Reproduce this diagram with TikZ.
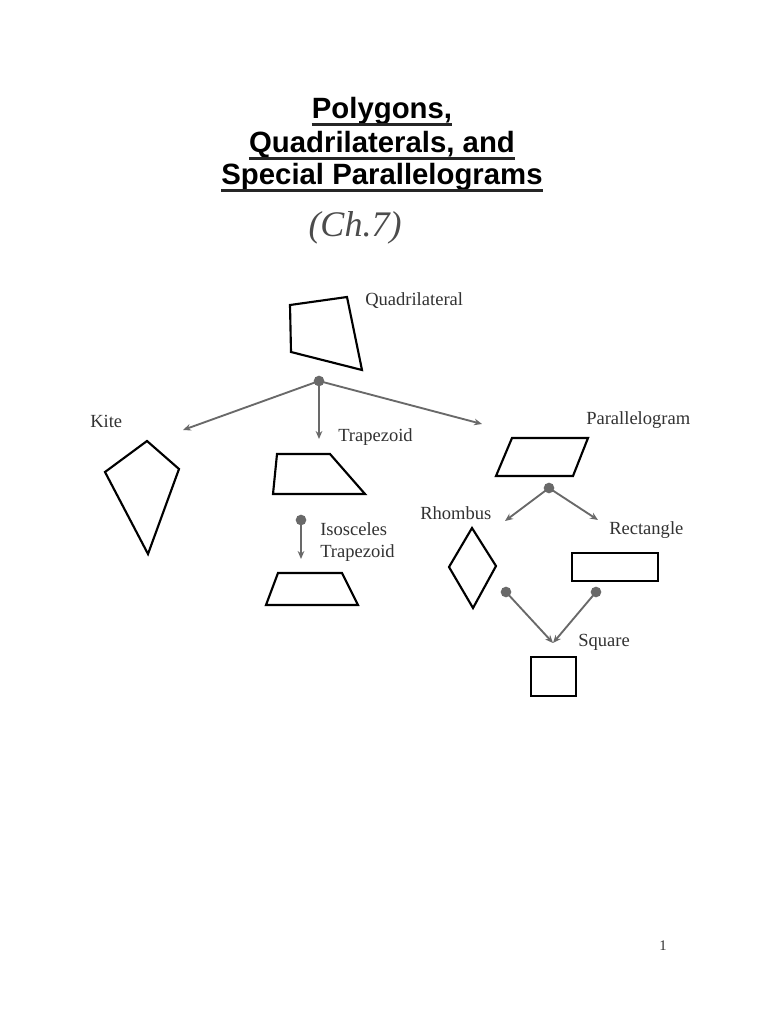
\documentclass[tikz,border=0pt]{standalone}
\usepackage{fontspec}
\setmainfont{Liberation Serif}
\newfontfamily\titlefont{Liberation Sans}
\usetikzlibrary{arrows.meta}
\definecolor{conn}{RGB}{105,105,105}
\definecolor{lbl}{RGB}{50,50,50}
\tikzset{
  shapeline/.style={draw=black, line width=1.6, line join=miter},
  conline/.style={draw=conn, line width=1.4, -{Stealth[length=6pt,width=5pt]}},
  dotmark/.style={circle, fill=conn, inner sep=0pt, minimum size=8},
  lab/.style={font=\fontsize{13.9}{16}\selectfont, text=lbl, inner sep=0pt, anchor=west},
  titletext/.style={font=\titlefont\bfseries\fontsize{22}{27}\selectfont, inner sep=0pt, anchor=base},
  uline/.style={draw=black!85, line width=2.2}
}
\begin{document}
\begin{tikzpicture}[x=0.75pt,y=-0.75pt]
\useasboundingbox[fill=white] (0,0) rectangle (768,1024);

% title
\node[titletext] (t1) at (382,118) {Polygons,};
\node[titletext] (t2) at (382,152) {Quadrilaterals, and};
\node[titletext] (t3) at (382,184) {Special Parallelograms};
\draw[uline] ([yshift=-5]t1.base west) -- ([yshift=-5]t1.base east);
\draw[uline] ([yshift=-5]t2.base west) -- ([yshift=-5]t2.base east);
\draw[uline] ([yshift=-5]t3.base west) -- ([yshift=-5]t3.base east);
\node[font=\fontsize{27}{30}\selectfont\itshape, text=black!70, inner sep=0pt] (ch) at (355,228) {(Ch.7)};

% quadrilateral
\draw[shapeline] (290,305) -- (347,297) -- (362,370) -- (291,352) -- cycle;
\node[lab] (lquad) at (365,301) {Quadrilateral};

% kite
\draw[shapeline] (147,441) -- (179,469) -- (148,554) -- (105,472) -- cycle;
\node[lab] (lkite) at (90,421) {Kite};

% trapezoid
\draw[shapeline] (277,454) -- (330,454) -- (365,494) -- (273,494) -- cycle;
\node[lab] (ltrap) at (338,437) {Trapezoid};

% isosceles trapezoid
\draw[shapeline] (278,573) -- (342,573) -- (358,605) -- (266,605) -- cycle;
\node[lab, align=left] (liso) at (320,542) {Isosceles\\Trapezoid};

% parallelogram
\draw[shapeline] (512,438) -- (588,438) -- (573,476) -- (496,476) -- cycle;
\node[lab] (lpar) at (586,420) {Parallelogram};

% rhombus
\draw[shapeline] (472,528) -- (496,566) -- (473,608) -- (449,567) -- cycle;
\node[lab] (lrho) at (420,513) {Rhombus};

% rectangle
\draw[shapeline] (572,553) rectangle (658,581);
\node[lab] (lrect) at (609,530) {Rectangle};

% square
\draw[shapeline] (531,657) rectangle (576,696);
\node[lab] (lsq) at (578,642) {Square};

% page number
\node[font=\fontsize{11}{13}\selectfont, text=lbl] (pnum) at (663,946) {1};

% connectors
\node[dotmark] (d1) at (319,381) {};
\coordinate (tkite) at (183,430);
\coordinate (ttrap) at (319,439);
\coordinate (tpar) at (482,424);
\draw[conline] (d1.center) -- (tkite);
\draw[conline] (d1.center) -- (ttrap);
\draw[conline] (d1.center) -- (tpar);

\node[dotmark] (d2) at (301,520) {};
\coordinate (tiso) at (301,559);
\draw[conline] (d2.center) -- (tiso);

\node[dotmark] (d3) at (549,488) {};
\coordinate (trho) at (505,521);
\coordinate (trect) at (598,520);
\draw[conline] (d3.center) -- (trho);
\draw[conline] (d3.center) -- (trect);

\node[dotmark] (d4) at (506,592) {};
\node[dotmark] (d5) at (596,592) {};
\coordinate (tsq) at (553,643);
\draw[conline] (d4.center) -- (tsq);
\draw[conline] (d5.center) -- (tsq);
\end{tikzpicture}
\end{document}
